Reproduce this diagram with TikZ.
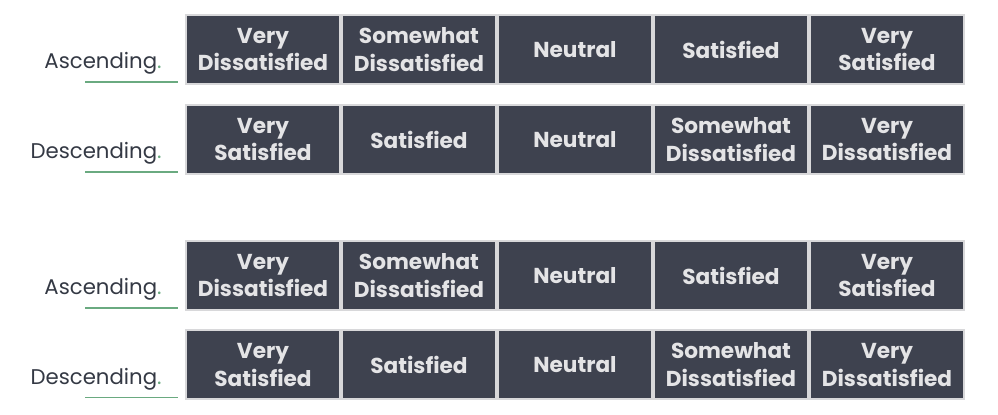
\documentclass[tikz,border=0pt]{standalone}
\usepackage{fontspec}
\setmainfont{Poppins}
\usepackage{xcolor}
\definecolor{cellfill}{RGB}{62,66,79}
\definecolor{celltext}{RGB}{228,228,230}
\definecolor{gapgray}{RGB}{216,216,218}
\definecolor{labeltext}{RGB}{52,57,68}
\definecolor{accent}{RGB}{106,170,128}

\begin{document}
\begin{tikzpicture}
    [   x = 0.2mm
    ,   y = -0.2mm
    ,   cell/.style =
        {   fill = cellfill
        ,   draw = gapgray
        ,   line width = 0.4mm
        ,   minimum width = 30.8mm
        ,   minimum height = 13.8mm
        ,   inner sep = 0mm
        ,   align = center
        ,   text = celltext
        ,   font = \fontsize{12.3}{15.9}\selectfont\bfseries
        }
    ,   order/.style =
        {   anchor = base east
        ,   inner sep = 0mm
        ,   text = labeltext
        ,   font = \fontsize{12.1}{14}\selectfont
        }
    ,   underline/.style = {accent, line width = 0.35mm}
    ]
    \useasboundingbox (0,0) rectangle (998,415);
    % labels and underlines
    \foreach\row/\ypos/\word in {1/49.5/Ascending,2/139.5/Descending,3/275.5/Ascending,4/365/Descending}
    {   \node[order] (L\row) at (162,\ypos+19.5) {\word\textcolor{accent}{.}};
        \coordinate (UL\row) at (85,\ypos+32.5);
        \coordinate (UR\row) at (178,\ypos+32.5);
        \draw[underline] (UL\row) -- (UR\row);
    }
    % ascending rows
    \foreach\row/\ypos in {1/49.5,3/275.5}
    {   \node[cell] (C\row1) at (263,\ypos) {Very\\Dissatisfied};
        \node[cell] (C\row2) at (419,\ypos) {Somewhat\\Dissatisfied};
        \node[cell] (C\row3) at (575,\ypos) {Neutral};
        \node[cell] (C\row4) at (731,\ypos) {Satisfied};
        \node[cell] (C\row5) at (887,\ypos) {Very\\Satisfied};
    }
    % descending rows
    \foreach\row/\ypos in {2/139.5,4/365}
    {   \node[cell] (C\row1) at (263,\ypos) {Very\\Satisfied};
        \node[cell] (C\row2) at (419,\ypos) {Satisfied};
        \node[cell] (C\row3) at (575,\ypos) {Neutral};
        \node[cell] (C\row4) at (731,\ypos) {Somewhat\\Dissatisfied};
        \node[cell] (C\row5) at (887,\ypos) {Very\\Dissatisfied};
    }

\end{tikzpicture}
\end{document}
